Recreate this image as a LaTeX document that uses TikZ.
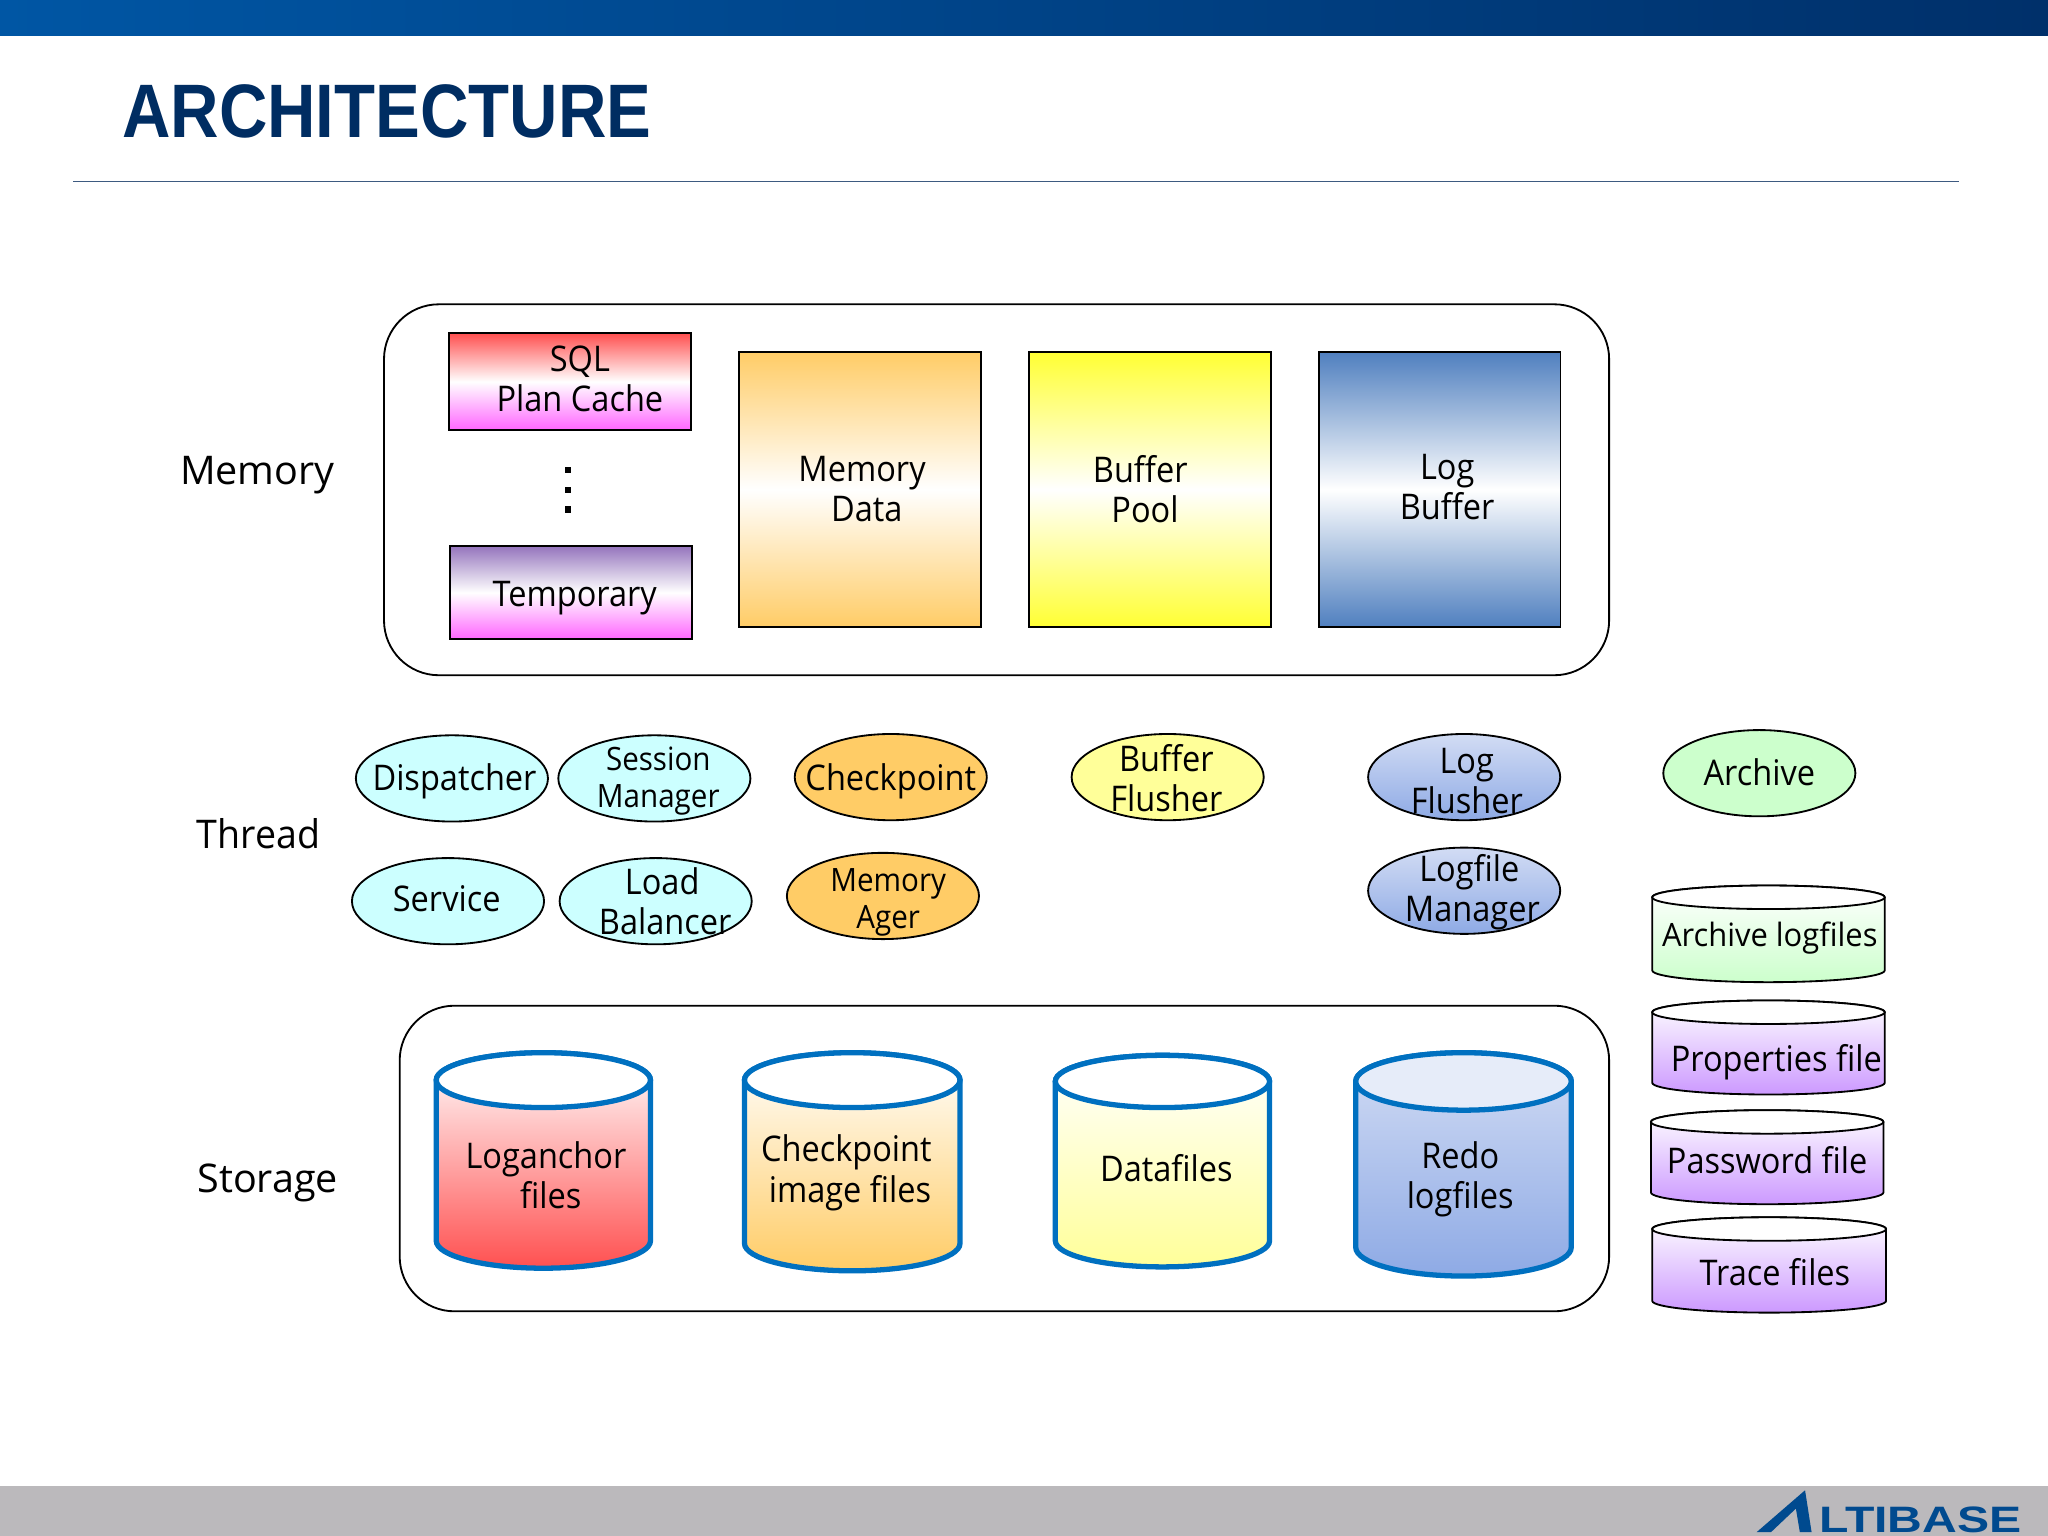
\documentclass[tikz,border=0pt]{standalone}
\usepackage{fontspec}
\usepackage{xcolor}
\setmainfont{Open Sans}
\newfontfamily\logofont{Liberation Sans}
\usetikzlibrary{shapes.geometric}

\definecolor{barleft}{HTML}{0056A4}
\definecolor{barright}{HTML}{00306A}
\definecolor{titleblue}{HTML}{002D62}
\definecolor{rulecol}{HTML}{3D5A80}
\definecolor{footgray}{HTML}{BBB9BC}
\definecolor{logoblue}{HTML}{004A8F}
\definecolor{canblue}{HTML}{0070C0}
\definecolor{cyanfill}{HTML}{CCFFFF}
\definecolor{orangefill}{HTML}{FFCC66}
\definecolor{yellowfill}{HTML}{FFFF99}
\definecolor{brightyellow}{HTML}{FFFF33}
\definecolor{redfill}{HTML}{FF5050}
\definecolor{pinkfill}{HTML}{FF66FF}
\definecolor{violetfill}{HTML}{9575BD}
\definecolor{logfill}{HTML}{4F7FBF}
\definecolor{bluetop}{HTML}{D2DCF4}
\definecolor{bluefill}{HTML}{8EAAE5}
\definecolor{greenfill}{HTML}{CCFFCC}
\definecolor{purplefill}{HTML}{CC99FF}

\tikzset{
    txt/.style={font=\fontsize{7.7}{8.8}\selectfont,align=center,inner sep=0pt,xscale=0.92,transform shape},
    small txt/.style={font=\fontsize{7}{8}\selectfont,align=center,inner sep=0pt,xscale=0.92,transform shape},
    section/.style={font=\fontsize{8.6}{10}\selectfont,inner sep=0pt},
    round box/.style={draw,line width=0.4pt,fill=white,rounded corners=0.42cm},
    memblock/.style={draw,line width=0.4pt,rectangle,anchor=north west,minimum width=1.85cm,inner sep=0pt},
    thread/.style={draw,line width=0.4pt,ellipse,minimum width=1.47cm,minimum height=0.66cm,inner sep=0pt},
    bigcan/.style={draw=canblue,line width=1.15pt},
    smallcan/.style={draw,line width=0.4pt}
}

\newcommand{\datacan}[8]{%
    \pgfmathsetmacro{\canrx}{(#3-#2)/2}
    \pgfmathsetmacro{\cancx}{(#3+#2)/2}
    \path [#6,top color=#7,bottom color=#8] (#2,#4) -- (#2,#5)
        arc [start angle=180,end angle=360,x radius=\canrx*0.01cm,y radius=#1*0.01cm]
        -- (#3,#4)
        arc [start angle=0,end angle=180,x radius=\canrx*0.01cm,y radius=#1*0.01cm] -- cycle;
    \path [#6,fill=#7!55!white] (\cancx,#4) ellipse [x radius=\canrx*0.01cm,y radius=#1*0.01cm];
}

\begin{document}
\begin{tikzpicture}[x=0.01cm,y=0.01cm]
    \useasboundingbox (0,0) rectangle (1568,1176);
    \fill [white] (0,0) rectangle (1568,1176);
    \shade [left color=barleft,right color=barright] (0,1149) rectangle (1568,1176);
    \fill [footgray] (0,0) rectangle (1568,38);
    \draw [rulecol,line width=0.4pt] (56,1037) -- (1500,1037);
    \node [font=\logofont\bfseries\fontsize{16.5}{18}\selectfont,text=titleblue,anchor=west,
        inner sep=0pt,xscale=0.885,transform shape] (title) at (93,1091) {ARCHITECTURE};

    \fill [logoblue] (1345,3) -- (1382,35) -- (1387,3) -- (1378,3) -- (1375,21) -- (1356,3) -- cycle;
    \node [font=\logofont\bfseries\fontsize{8}{9}\selectfont,text=logoblue,anchor=west,
        inner sep=0pt,xscale=1.31,transform shape] (logo) at (1392,12.5) {LTIBASE};

    \node [section] (memory) at (197,812) {Memory};
    \node [section,xscale=0.95,transform shape] (threadtitle) at (198,538) {Thread};
    \node [section] (storagetitle) at (205,270) {Storage};

    \draw [round box] (294,659) rectangle (1232,943);
    \draw [round box] (306,172) rectangle (1232,406);

    \node [memblock,minimum height=0.74cm,top color=redfill,bottom color=pinkfill,middle color=white] (sql) at (343,921.5) {};
    \node [memblock,minimum height=0.71cm,top color=violetfill,bottom color=pinkfill,middle color=white] (temp) at (344,758.5) {};
    \node [memblock,minimum height=2.11cm,top color=orangefill,bottom color=orangefill,middle color=white] (memdata) at (565,907.5) {};
    \node [memblock,minimum height=2.11cm,top color=brightyellow,bottom color=brightyellow,middle color=white] (bufpool) at (787,907.5) {};
    \node [memblock,minimum height=2.11cm,top color=logfill,bottom color=logfill,middle color=white] (logbuf) at (1009,907.5) {};
    \foreach \i in {786, 801, 816}{
        \fill (432.5,\i-2.5) rectangle ++(5,5);
    }

    \node [txt] (sqltext) at (444,886) {SQL\\Plan Cache};
    \node [txt] (temptext) at (440,718) {Temporary};
    \node [txt] (memdatatext) at (660,801.5) {Memory\\\hspace*{0.08cm}Data};
    \node [txt] (bufpooltext) at (873,801.5) {Buffer\\\hspace*{0.08cm}Pool};
    \node [txt] (logbuftext) at (1108,803) {Log\\Buffer};

    \node [thread,fill=cyanfill] (dispatcher) at (346,580) {};
    \node [thread,fill=cyanfill] (session) at (501,580) {};
    \node [thread,fill=cyanfill] (service) at (343,486) {};
    \node [thread,fill=cyanfill] (balancer) at (502,486) {};
    \node [thread,fill=orangefill] (checkpoint) at (682,581) {};
    \node [thread,fill=orangefill] (ager) at (676,490) {};
    \node [thread,fill=yellowfill] (flusher) at (894,581) {};
    \node [thread,top color=bluetop,bottom color=bluefill] (logflusher) at (1121,581) {};
    \node [thread,top color=bluetop,bottom color=bluefill] (logfilemgr) at (1121,494) {};
    \node [thread,fill=greenfill] (archive) at (1347,584) {};

    \node [txt] (dispatchertext) at (348,578) {Dispatcher};
    \node [small txt] (sessiontext) at (504,578) {Session\\Manager};
    \node [txt] (servicetext) at (342,488) {Service};
    \node [txt] (balancertext) at (507,486) {Load\\\hspace*{0.05cm}Balancer};
    \node [txt] (checkpointtext) at (682,578) {Checkpoint};
    \node [small txt] (agertext) at (680,485) {Memory\\Ager};
    \node [txt] (flushertext) at (893,580) {Buffer\\Flusher};
    \node [txt] (logflushertext) at (1123,578) {Log\\Flusher};
    \node [txt] (logfilemgrtext) at (1125,493) {Logfile\\\hspace*{0.05cm}Manager};
    \node [txt] (archivetext) at (1347,585) {Archive};

    \datacan{21}{334}{498}{349}{226}{bigcan}{white}{redfill}
    \datacan{21}{570}{735}{349}{224}{bigcan}{white}{orangefill}
    \datacan{20}{808}{972}{348}{226}{bigcan}{white}{yellowfill}
    \datacan{22}{1038}{1203}{348}{221}{bigcan}{bluetop}{bluefill}

    \node [txt] (loganchortext) at (418,276) {Loganchor\\\hspace*{0.08cm}files};
    \node [txt] (imagetext) at (648,278) {Checkpoint\\\hspace*{0.06cm}image files};
    \node [txt] (datafilestext) at (893,282) {Datafiles};
    \node [txt] (redotext) at (1118,273) {Redo\\logfiles};

    \datacan{9}{1265}{1443}{489}{433}{smallcan}{white}{greenfill}
    \datacan{9}{1265}{1443}{401}{347}{smallcan}{white}{purplefill}
    \datacan{9}{1264}{1442}{317}{263}{smallcan}{white}{purplefill}
    \datacan{9}{1265}{1444}{235}{180}{smallcan}{white}{purplefill}

    \node [small txt,xscale=1.045] (archivelogtext) at (1355,458) {Archive logfiles};
    \node [txt] (propertiestext) at (1360,363) {Properties file};
    \node [txt] (passwordtext) at (1353,288) {Password file};
    \node [txt] (tracetext) at (1359,202) {Trace files};
\end{tikzpicture}
\end{document}
